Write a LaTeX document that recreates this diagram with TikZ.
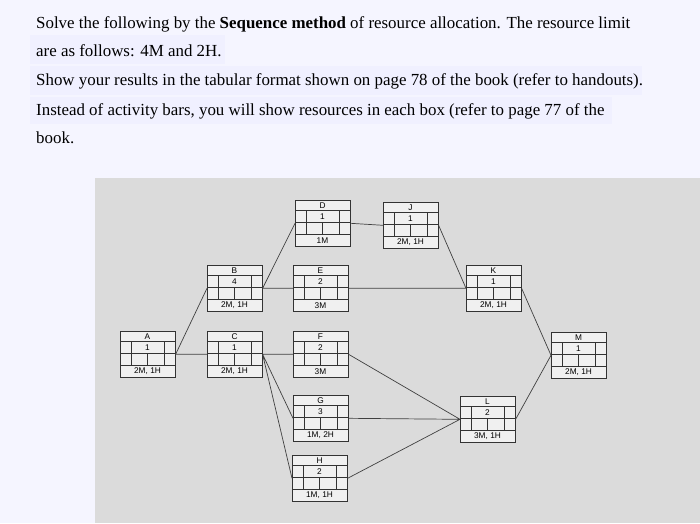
\documentclass[tikz,border=0pt]{standalone}
\usepackage{fontspec}
\setmainfont{Liberation Serif}
\newfontfamily\boxfont{Liberation Sans}
\tikzset{
 abox/.style={draw=black!80,line width=0.6pt,minimum width=55pt,minimum height=46pt,inner sep=0pt,anchor=north west,fill=gray!12},
 link/.style={draw=black!75,line width=0.7pt},
 txt/.style={anchor=base west,inner sep=0pt,font=\fontsize{16.9}{19}\selectfont},
 btxt/.style={font=\boxfont\fontsize{8.3}{9}\selectfont,inner sep=0pt},
}
\newcommand{\actbox}[6]{%
 \node[abox] (#1) at (#2,#3) {};
 \draw[black!80,line width=0.5pt] (#2,#3+10)--++(55,0) (#2,#3+22)--++(55,0) (#2,#3+34)--++(55,0)
  (#2+11,#3+10)--++(0,24) (#2+44,#3+10)--++(0,24) (#2+27.5,#3+22)--++(0,12);
 \node[btxt] at (#2+27.5,#3+5.5) {#4};
 \node[btxt] at (#2+27.5,#3+16.5) {#5};
 \node[btxt] at (#2+27.5,#3+40.5) {#6};
}
\begin{document}
\begin{tikzpicture}[x=1pt,y=-1pt]
\fill[white!96!blue] (0,0) rectangle (700,523);
\fill[gray!28] (95,178) rectangle (700,523);
\fill[blue!6] (30,35) rectangle (225,64);
\fill[blue!6] (30,66) rectangle (642,95);
\fill[blue!6] (30,97) rectangle (612,124);
\node[txt] (t1) at (36,28) {Solve the following by the \textbf{Sequence method} of resource allocation. The resource limit};
\node[txt] (t2) at (36,56) {are as follows: 4M and 2H.};
\node[txt] (t3) at (36,85) {Show your results in the tabular format shown on page 78 of the book (refer to handouts).};
\node[txt] (t4) at (36,115) {Instead of activity bars, you will show resources in each box (refer to page 77 of the};
\node[txt] (t5) at (36,143) {book.};
\actbox{A}{120}{331}{A}{1}{2M, 1H}
\actbox{B}{207}{265}{B}{4}{2M, 1H}
\actbox{C}{207}{331}{C}{1}{2M, 1H}
\actbox{D}{295}{200}{D}{1}{1M}
\actbox{E}{293}{265}{E}{2}{3M}
\actbox{F}{293}{331}{F}{2}{3M}
\actbox{G}{293}{395}{G}{3}{1M, 2H}
\actbox{H}{292}{455}{H}{2}{1M, 1H}
\actbox{J}{383}{202}{J}{1}{2M, 1H}
\actbox{K}{466}{265}{K}{1}{2M, 1H}
\actbox{L}{460}{396}{L}{2}{3M, 1H}
\actbox{M}{551}{332}{M}{1}{2M, 1H}
\draw[link] (A.east)--(B.west) (A.east)--(C.west) (B.east)--(D.west) (B.east)--(E.west)
 (C.east)--(F.west) (C.east)--(G.west) (C.east)--(H.west) (D.east)--(J.west)
 (E.east)--(K.west) (J.east)--(K.west) (F.east)--(L.west) (G.east)--(L.west)
 (H.east)--(L.west) (K.east)--(M.west) (L.east)--(M.west);
\end{tikzpicture}
\end{document}
